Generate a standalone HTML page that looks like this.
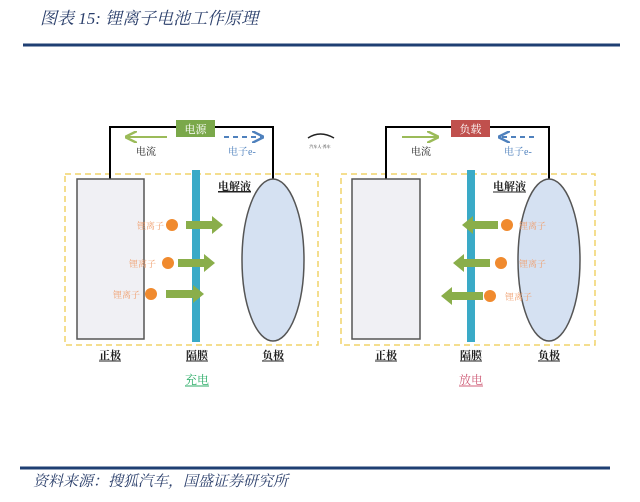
<!DOCTYPE html>
<html><head><meta charset="utf-8"><style>
body{margin:0;background:#fff;width:640px;height:497px;overflow:hidden}
</style></head><body>
<svg width="640" height="497" viewBox="0 0 640 497" xmlns="http://www.w3.org/2000/svg" font-family="Liberation Serif, Noto Serif CJK SC, serif">
<text x="40" y="24" font-size="17" font-style="italic" fill="#2b3f6b">图表 15:  锂离子电池工作原理</text>
<line x1="23" y1="45" x2="620" y2="45" stroke="#1f3f73" stroke-width="3"/>
<defs>
<marker id="ga" markerWidth="6" markerHeight="6" refX="5" refY="3" orient="auto"><path d="M0,0 L6,3 L0,6" fill="none" stroke="#9bbb59" stroke-width="1.2"/></marker>
<marker id="ba" markerWidth="6" markerHeight="6" refX="5" refY="3" orient="auto"><path d="M0,0 L6,3 L0,6" fill="none" stroke="#4f81bd" stroke-width="1.2"/></marker>
</defs>
<!-- LEFT -->
<g>
<rect x="65" y="174" width="253" height="171" fill="none" stroke="#f1d36a" stroke-width="1.5" stroke-dasharray="6,4"/>
<polyline points="110,179 110,127 176,127" fill="none" stroke="#000" stroke-width="2"/>
<polyline points="215,127 273,127 273,179" fill="none" stroke="#000" stroke-width="2"/>
<rect x="176" y="120" width="39" height="17" fill="#7aa84a"/>
<text x="195.5" y="133" font-size="11" fill="#fff" text-anchor="middle">电源</text>
<line x1="167" y1="137" x2="127" y2="137" stroke="#9bbb59" stroke-width="2" marker-end="url(#ga)"/>
<text x="136" y="155" font-size="10" fill="#222">电流</text>
<line x1="224" y1="137" x2="262" y2="137" stroke="#4f81bd" stroke-width="2" stroke-dasharray="5,4" marker-end="url(#ba)"/>
<text x="228" y="155" font-size="10" fill="#4f81bd">电子e-</text>
<rect x="77" y="179" width="67" height="160" fill="#f0f0f4" stroke="#555" stroke-width="1.5"/>
<rect x="192" y="170" width="8" height="172" fill="#3aaac7"/>
<ellipse cx="273" cy="260" rx="31" ry="81" fill="#d5e1f2" stroke="#555" stroke-width="1.5"/>
<text x="218" y="190" font-size="11" font-weight="bold" fill="#222" text-decoration="underline">电解液</text>
<line x1="218" y1="192" x2="251" y2="192" stroke="#222"/>
<g fill="#f08a2e"><circle cx="172" cy="225" r="6"/><circle cx="168" cy="263" r="6"/><circle cx="151" cy="294" r="6"/></g>
<g font-size="9" fill="#f0a070"><text x="137" y="229">锂离子</text><text x="129" y="267">锂离子</text><text x="113" y="298">锂离子</text></g>
<g fill="#8aae4a"><path d="M186,221 h26 v-5 l11,9 l-11,9 v-5 h-26z"/><path d="M178,259 h26 v-5 l11,9 l-11,9 v-5 h-26z"/><path d="M166,290 h27 v-5 l11,9 l-11,9 v-5 h-27z"/></g>
<g font-size="11" font-weight="bold" fill="#222" text-anchor="middle"><text x="110" y="359">正极</text><text x="197" y="359">隔膜</text><text x="273" y="359">负极</text></g>
<g stroke="#222"><line x1="99" y1="361" x2="121" y2="361"/><line x1="186" y1="361" x2="208" y2="361"/><line x1="262" y1="361" x2="284" y2="361"/></g>
<text x="197" y="384" font-size="12" fill="#2fae6a" text-anchor="middle">充电</text>
<line x1="185" y1="386" x2="209" y2="386" stroke="#2fae6a"/>
</g>
<!-- logo -->
<path d="M308,138 q12,-8 26,0" fill="none" stroke="#222" stroke-width="1.5"/>
<text x="320" y="148" font-size="4" text-anchor="middle" fill="#222">汽车人·养车</text>
<!-- RIGHT -->
<g>
<rect x="341" y="174" width="254" height="171" fill="none" stroke="#f1d36a" stroke-width="1.5" stroke-dasharray="6,4"/>
<polyline points="386,179 386,127 451,127" fill="none" stroke="#000" stroke-width="2"/>
<polyline points="490,127 549,127 549,179" fill="none" stroke="#000" stroke-width="2"/>
<rect x="451" y="120" width="39" height="17" fill="#c0504d"/>
<text x="470.5" y="133" font-size="11" fill="#fff" text-anchor="middle">负载</text>
<line x1="402" y1="137" x2="437" y2="137" stroke="#9bbb59" stroke-width="2" marker-end="url(#ga)"/>
<text x="411" y="155" font-size="10" fill="#222">电流</text>
<line x1="534" y1="137" x2="500" y2="137" stroke="#4f81bd" stroke-width="2" stroke-dasharray="5,4" marker-end="url(#ba)"/>
<text x="504" y="155" font-size="10" fill="#4f81bd">电子e-</text>
<rect x="352" y="179" width="68" height="160" fill="#f0f0f4" stroke="#555" stroke-width="1.5"/>
<rect x="467" y="170" width="8" height="172" fill="#3aaac7"/>
<ellipse cx="549" cy="260" rx="31" ry="81" fill="#d5e1f2" stroke="#555" stroke-width="1.5"/>
<text x="493" y="190" font-size="11" font-weight="bold" fill="#222">电解液</text>
<line x1="493" y1="192" x2="526" y2="192" stroke="#222"/>
<g fill="#f08a2e"><circle cx="507" cy="225" r="6"/><circle cx="501" cy="263" r="6"/><circle cx="490" cy="296" r="6"/></g>
<g font-size="9" fill="#f0a070"><text x="519" y="229">锂离子</text><text x="519" y="267">锂离子</text><text x="505" y="300">锂离子</text></g>
<g fill="#8aae4a"><path d="M498,221 h-25 v-5 l-11,9 l11,9 v-5 h25z"/><path d="M490,259 h-26 v-5 l-11,9 l11,9 v-5 h26z"/><path d="M483,292 h-31 v-5 l-11,9 l11,9 v-5 h31z"/></g>
<g font-size="11" font-weight="bold" fill="#222" text-anchor="middle"><text x="386" y="359">正极</text><text x="471" y="359">隔膜</text><text x="549" y="359">负极</text></g>
<g stroke="#222"><line x1="375" y1="361" x2="397" y2="361"/><line x1="460" y1="361" x2="482" y2="361"/><line x1="538" y1="361" x2="560" y2="361"/></g>
<text x="471" y="384" font-size="12" fill="#d0607a" text-anchor="middle">放电</text>
<line x1="459" y1="386" x2="483" y2="386" stroke="#d0607a"/>
</g>
<line x1="20" y1="468" x2="610" y2="468" stroke="#1f3f73" stroke-width="3"/>
<text x="33" y="486" font-size="15" font-style="italic" fill="#2b3f6b">资料来源：搜狐汽车，国盛证券研究所</text>
</svg>
</body></html>
